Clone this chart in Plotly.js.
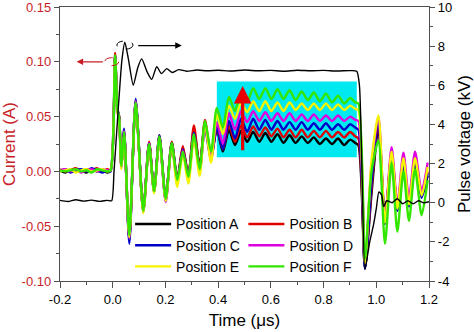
<!DOCTYPE html>
<html>
<head>
<meta charset="utf-8">
<script src="https://cdn.plot.ly/plotly-3.0.1.min.js"></script>
<style>html,body{margin:0;padding:0;background:#fff;}#chart{width:474px;height:332px;}</style>
</head>
<body>
<div id="chart"></div>
<script>
// ---- data ----
const seriesNames = ['Position A', 'Position B', 'Position C', 'Position D', 'Position E', 'Position F'];

// time (µs) of the current samples (shared by all six positions)
const tCurrent = [
  -0.200, -0.180, -0.160, -0.140, -0.120, -0.100, -0.080, -0.060, -0.040, -0.020, -0.008,
  0.009, 0.018, 0.024, 0.033, 0.043, 0.063, 0.087, 0.116, 0.138, 0.157,
  0.177, 0.201, 0.224, 0.245, 0.266, 0.287, 0.308, 0.330, 0.350, 0.373,
  0.395, 0.418, 0.441, 0.464, 0.487, 0.510, 0.533, 0.556, 0.579, 0.602, 0.625, 0.648,
  0.671, 0.694, 0.717, 0.740, 0.763, 0.786, 0.809, 0.832, 0.855, 0.878, 0.901, 0.920,
  0.932, 0.957, 0.982, 1.008, 1.033, 1.058, 1.080, 1.103, 1.124, 1.147, 1.172, 1.195
];

// current (A)
const currentA = [
  0.001, -0.001, 0.002, 0.000, 0.001, -0.001, 0.002, 0.000, 0.001, -0.001, 0.001,
  0.106, 0.055, 0.050, 0.004, 0.036, -0.062, 0.063, -0.036, 0.026, -0.018,
  0.032, -0.025, 0.026, -0.007, 0.021, -0.004, 0.038, 0.005, 0.044, 0.014,
  0.038, 0.018, 0.038, 0.024, 0.037, 0.027, 0.036, 0.027, 0.035, 0.027, 0.034, 0.026,
  0.033, 0.026, 0.032, 0.026, 0.031, 0.025, 0.030, 0.025, 0.030, 0.024, 0.029, 0.026,
  0.024, -0.088, -0.020, 0.040, -0.045, 0.015, -0.034, 0.005, -0.030, 0.006, -0.022, -0.004
];
const currentB = [
  0.002, 0.000, 0.001, 0.003, 0.000, 0.002, 0.001, 0.003, 0.000, 0.002, 0.001,
  0.108, 0.056, 0.051, 0.005, 0.037, -0.062, 0.064, -0.036, 0.027, -0.018,
  0.033, -0.025, 0.027, -0.007, 0.023, -0.004, 0.042, 0.003, 0.047, 0.012,
  0.040, 0.020, 0.042, 0.027, 0.042, 0.031, 0.041, 0.032, 0.040, 0.032, 0.039, 0.031,
  0.038, 0.031, 0.038, 0.031, 0.037, 0.031, 0.037, 0.031, 0.036, 0.031, 0.036, 0.032,
  0.030, -0.086, -0.015, 0.045, -0.045, 0.018, -0.033, 0.008, -0.028, 0.010, -0.020, 0.000
];
const currentC = [
  0.000, 0.002, -0.001, 0.001, 0.002, 0.000, 0.003, 0.001, -0.001, 0.001, 0.000,
  0.105, 0.057, 0.050, 0.004, 0.039, -0.066, 0.066, -0.037, 0.026, -0.019,
  0.033, -0.027, 0.026, -0.009, 0.020, -0.006, 0.035, 0.001, 0.040, 0.010,
  0.040, 0.020, 0.046, 0.030, 0.048, 0.036, 0.048, 0.038, 0.047, 0.038, 0.046, 0.038,
  0.045, 0.038, 0.045, 0.038, 0.044, 0.038, 0.044, 0.038, 0.043, 0.038, 0.043, 0.040,
  0.038, -0.089, -0.010, 0.045, -0.048, 0.016, -0.036, 0.006, -0.032, 0.008, -0.024, -0.002
];
const currentD = [
  0.001, 0.002, 0.000, 0.002, -0.001, 0.001, 0.002, 0.000, 0.002, 0.001, 0.001,
  0.105, 0.055, 0.049, 0.003, 0.037, -0.061, 0.064, -0.037, 0.026, -0.019,
  0.031, -0.028, 0.025, -0.010, 0.019, -0.007, 0.033, 0.000, 0.042, 0.012,
  0.045, 0.025, 0.053, 0.038, 0.055, 0.045, 0.055, 0.046, 0.054, 0.046, 0.053, 0.046,
  0.053, 0.046, 0.052, 0.046, 0.052, 0.046, 0.051, 0.046, 0.051, 0.046, 0.050, 0.047,
  0.046, -0.082, 0.005, 0.050, -0.045, 0.022, -0.030, 0.017, -0.025, 0.018, -0.018, 0.008
];
const currentE = [
  0.000, 0.001, 0.002, -0.001, 0.001, 0.002, 0.000, 0.001, 0.002, 0.000, 0.001,
  0.104, 0.054, 0.048, 0.002, 0.034, -0.060, 0.062, -0.038, 0.024, -0.020,
  0.030, -0.027, 0.024, -0.014, 0.016, -0.011, 0.030, -0.004, 0.044, 0.008,
  0.052, 0.034, 0.060, 0.048, 0.063, 0.054, 0.064, 0.055, 0.064, 0.055, 0.063, 0.055,
  0.063, 0.056, 0.062, 0.056, 0.062, 0.056, 0.062, 0.056, 0.061, 0.056, 0.060, 0.057,
  0.056, -0.084, 0.010, 0.051, -0.047, 0.018, -0.034, 0.012, -0.030, 0.012, -0.022, 0.004
];
const currentF = [
  0.001, 0.000, 0.001, 0.002, 0.000, 0.001, -0.001, 0.002, 0.001, 0.000, 0.001,
  0.106, 0.056, 0.050, 0.005, 0.036, -0.058, 0.063, -0.036, 0.025, -0.018,
  0.032, -0.025, 0.026, -0.008, 0.018, -0.005, 0.034, 0.002, 0.046, 0.018,
  0.058, 0.040, 0.068, 0.055, 0.073, 0.063, 0.076, 0.066, 0.076, 0.066, 0.075, 0.066,
  0.074, 0.065, 0.073, 0.065, 0.072, 0.064, 0.071, 0.063, 0.069, 0.062, 0.067, 0.063,
  0.062, -0.080, 0.000, 0.028, -0.066, 0.008, -0.055, 0.000, -0.045, 0.002, -0.040, -0.008
];

// pulse voltage (kV)
const tVoltage = [
  -0.200, -0.170, -0.140, -0.110, -0.080, -0.050, -0.020, -0.004, 0.005, 0.020,
  0.035, 0.046, 0.060, 0.078, 0.095, 0.110, 0.130, 0.148, 0.167, 0.185,
  0.205, 0.225, 0.250, 0.280, 0.320, 0.360, 0.400, 0.450, 0.500, 0.550,
  0.600, 0.650, 0.700, 0.750, 0.800, 0.850, 0.900, 0.926, 0.936, 0.946,
  0.957, 0.975, 0.990, 1.000, 1.010, 1.020, 1.028, 1.040, 1.060, 1.080,
  1.100, 1.120, 1.140, 1.160, 1.180, 1.200
];
const voltage = [
  0.12, 0.06, 0.15, 0.08, 0.13, 0.07, 0.12, 0.10, 1.6, 4.6,
  7.3, 8.2, 7.3, 6.0, 6.9, 7.35, 6.7, 6.3, 6.95, 6.6,
  6.85, 6.65, 6.8, 6.72, 6.78, 6.74, 6.77, 6.73, 6.78, 6.74,
  6.76, 6.72, 6.77, 6.74, 6.76, 6.73, 6.75, 6.72, 6.0, 1.5,
  -3.4, -2.0, -1.1, -0.3, 0.55, 0.4, -0.2, 0.1, 0.0, 0.2,
  -0.05, 0.1, -0.05, 0.1, 0.0, 0.05
];

// tick labels
const xTickVals = [-0.2, 0.0, 0.2, 0.4, 0.6, 0.8, 1.0, 1.2];
const xTickText = ['-0.2', '0.0', '0.2', '0.4', '0.6', '0.8', '1.0', '1.2'];
const yTickVals = [-0.10, -0.05, 0.00, 0.05, 0.10, 0.15];
const yTickText = ['-0.10', '-0.05', '0.00', '0.05', '0.10', '0.15'];
const y2TickVals = [-4, -2, 0, 2, 4, 6, 8, 10];
const y2TickText = ['-4', '-2', '0', '2', '4', '6', '8', '10'];

// ---- styling ----
const FONT = 'Liberation Sans, Arial, sans-serif';
const RED = 'rgb(200,30,40)';
const AXIS = '#505050';
const colors = ['#000000', '#e00000', '#0000c8', '#e000e0', '#f5f500', '#33e600'];
const currents = [currentA, currentB, currentC, currentD, currentE, currentF];
const legendOf = ['legend', 'legend2', 'legend', 'legend2', 'legend', 'legend2'];

const traces = [{
  x: tVoltage, y: voltage, yaxis: 'y2', type: 'scatter', mode: 'lines',
  line: {color: '#000000', width: 1.4, shape: 'spline', smoothing: 0.6}, showlegend: false, name: 'Pulse voltage'
}];
currents.forEach((c, i) => {
  traces.push({
    x: tCurrent, y: c, type: 'scatter', mode: 'lines', name: seriesNames[i],
    line: {color: colors[i], width: 2.4, shape: 'spline', smoothing: 0.7}, legend: legendOf[i]
  });
});

const legendCommon = {
  bgcolor: 'rgba(0,0,0,0)', borderwidth: 0, font: {family: FONT, size: 14, color: '#000'},
  orientation: 'v', yanchor: 'top', xanchor: 'left', itemwidth: 36, tracegroupgap: 0
};

const axisCommon = {
  ticks: 'outside', tickcolor: AXIS, showline: true, linecolor: AXIS, linewidth: 1.2,
  showgrid: false, zeroline: false, ticklabeloverflow: 'allow', tickmode: 'array'
};

const layout = {
  width: 474, height: 332,
  margin: {l: 60, r: 45, t: 7, b: 51},
  paper_bgcolor: '#fff', plot_bgcolor: '#fff',
  font: {family: FONT, size: 13, color: '#000'},
  showlegend: true,
  legend: Object.assign({}, legendCommon, {x: 0.19, y: 0.265}),
  legend2: Object.assign({}, legendCommon, {x: 0.497, y: 0.265}),
  xaxis: Object.assign({}, axisCommon, {
    range: [-0.2, 1.2], tickvals: xTickVals, ticktext: xTickText, ticklen: 6, mirror: true,
    minor: {tickmode: 'linear', tick0: 0, dtick: 0.1, ticks: 'outside', ticklen: 3, tickcolor: AXIS},
    tickfont: {family: FONT, size: 13, color: '#000'},
    title: {text: 'Time (\u03bcs)', font: {family: FONT, size: 17, color: '#000'}, standoff: 8}
  }),
  yaxis: Object.assign({}, axisCommon, {
    range: [-0.10, 0.15], tickvals: yTickVals, ticktext: yTickText, ticklen: 5,
    minor: {tickmode: 'linear', tick0: 0, dtick: 0.025, ticks: 'outside', ticklen: 3, tickcolor: AXIS},
    tickfont: {family: FONT, size: 13, color: RED},
    title: {text: 'Current (A)', font: {family: FONT, size: 17, color: RED}, standoff: 8}
  }),
  yaxis2: Object.assign({}, axisCommon, {
    range: [-4, 10], overlaying: 'y', side: 'right', tickvals: y2TickVals, ticktext: y2TickText, ticklen: 5,
    minor: {tickmode: 'linear', tick0: 0, dtick: 1, ticks: 'outside', ticklen: 3, tickcolor: AXIS},
    tickfont: {family: FONT, size: 13, color: '#000'},
    title: {text: 'Pulse voltage (kV)', font: {family: FONT, size: 17, color: '#000'}, standoff: 8}
  }),
  shapes: [
    {type: 'rect', xref: 'x', yref: 'y', x0: 0.395, x1: 0.926, y0: 0.013, y1: 0.082,
     fillcolor: '#00e8f0', line: {width: 0}, layer: 'below'},
    {type: 'circle', xref: 'x', yref: 'y', x0: 0.016, x1: 0.077, y0: 0.1115, y1: 0.119,
     line: {color: '#000', width: 1, dash: 'dash'}},
    {type: 'circle', xref: 'x', yref: 'y', x0: -0.030, x1: 0.023, y0: 0.0965, y1: 0.1037,
     line: {color: RED, width: 1, dash: 'dash'}}
  ],
  annotations: [
    {xref: 'x', yref: 'y', axref: 'x', ayref: 'y', x: 0.262, y: 0.1148, ax: 0.091, ay: 0.1148,
     text: '', showarrow: true, arrowhead: 2, arrowsize: 1, arrowwidth: 1.3, arrowcolor: '#000'},
    {xref: 'x', yref: 'y', axref: 'x', ayref: 'y', x: -0.137, y: 0.100, ax: -0.032, ay: 0.100,
     text: '', showarrow: true, arrowhead: 2, arrowsize: 1, arrowwidth: 1.3, arrowcolor: RED},
    {xref: 'x', yref: 'y', axref: 'x', ayref: 'y', x: 0.493, y: 0.078, ax: 0.493, ay: 0.018,
     text: '', showarrow: true, arrowhead: 2, arrowsize: 1.1, arrowwidth: 3.2, arrowcolor: '#e80000'}
  ]
};

Plotly.newPlot('chart', traces, layout, {displayModeBar: false, staticPlot: true});
</script>
</body>
</html>
